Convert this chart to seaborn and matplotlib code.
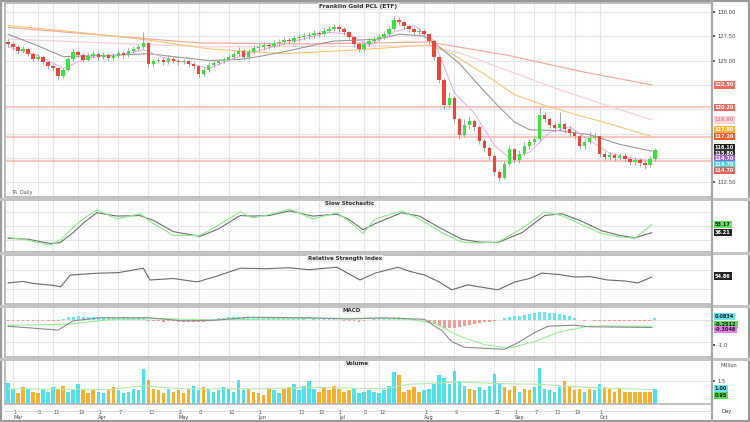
import numpy as np
import matplotlib
matplotlib.use("Agg")
import matplotlib.pyplot as plt
from matplotlib.lines import Line2D
from matplotlib.patches import Rectangle
import seaborn as sns

# ------------------------------------------------------------
# Data (daily bars, price in THB)
# ------------------------------------------------------------
closes = [126.7, 126.4, 126.0, 126.2, 125.7, 125.2, 125.4, 124.8, 124.4, 124.2,
          123.4, 124.0, 125.2, 125.9, 125.6, 125.1, 125.5, 125.7, 125.4, 125.6,
          125.3, 125.5, 125.8, 125.6, 126.0, 126.2, 126.4, 126.8, 124.6, 124.9,
          125.1, 124.8, 125.2, 125.0, 124.8, 124.9, 124.6, 124.4, 123.6, 124.0,
          124.5, 124.7, 124.9, 125.1, 125.4, 125.7, 126.0, 125.4, 125.9, 126.3,
          126.4, 126.6, 126.5, 126.8, 126.9, 127.1, 127.0, 127.3, 127.4, 127.5,
          127.6, 127.8, 127.7, 128.0, 128.2, 128.4, 128.2, 127.9, 127.4, 126.7,
          126.2, 126.7, 127.0, 127.2, 127.4, 127.7, 128.2, 129.2, 128.9, 128.5,
          128.2, 127.9, 128.0, 127.7, 127.0, 125.4, 123.0, 120.4, 121.2, 119.0,
          117.4, 118.4, 118.8, 118.2, 116.7, 116.0, 115.2, 113.6, 113.0, 114.4,
          115.9, 114.8, 115.4, 116.2, 116.6, 116.9, 119.4, 119.0, 118.4, 118.1,
          118.5, 118.0, 117.6, 117.3, 116.2, 116.6, 117.1, 117.3, 115.4, 115.1,
          115.3, 115.0, 115.2, 114.9, 114.6, 114.8, 114.5, 114.3, 114.9, 115.8]
opens = [126.9, 126.7, 126.4, 126.0, 126.2, 125.7, 125.2, 125.4, 124.8, 124.4,
         124.2, 123.4, 124.0, 125.2, 125.9, 125.6, 125.1, 125.5, 125.7, 125.4,
         125.6, 125.3, 125.5, 125.8, 125.6, 126.0, 126.2, 126.4, 126.8, 124.6,
         124.9, 125.1, 124.8, 125.2, 125.0, 124.8, 124.9, 124.6, 124.4, 123.6,
         124.0, 124.5, 124.7, 124.9, 125.1, 125.4, 125.7, 126.0, 125.4, 125.9,
         126.3, 126.4, 126.6, 126.5, 126.8, 126.9, 127.1, 127.0, 127.3, 127.4,
         127.5, 127.6, 127.8, 127.7, 128.0, 128.2, 128.4, 128.2, 127.9, 127.4,
         126.7, 126.2, 126.7, 127.0, 127.2, 127.4, 127.7, 128.2, 129.2, 128.9,
         128.5, 128.2, 127.9, 128.0, 127.7, 127.0, 125.4, 123.0, 120.4, 121.2,
         119.0, 117.4, 118.4, 118.8, 118.2, 116.7, 116.0, 115.2, 113.6, 113.0,
         114.4, 115.9, 114.8, 115.4, 116.2, 116.6, 116.9, 119.4, 119.0, 118.4,
         118.1, 118.5, 118.0, 117.6, 117.3, 116.2, 116.6, 117.1, 117.3, 115.4,
         115.1, 115.3, 115.0, 115.2, 114.9, 114.6, 114.8, 114.5, 114.3, 114.9]
highs = [127.2, 126.9, 126.6, 126.5, 126.4, 125.9, 125.7, 125.6, 125.0, 124.6,
         124.3, 124.2, 125.4, 126.2, 126.1, 125.8, 125.8, 126.0, 125.9, 125.9,
         125.8, 125.8, 126.1, 126.0, 126.3, 126.5, 126.7, 127.9, 126.9, 125.2,
         125.4, 125.3, 125.6, 125.4, 125.2, 125.2, 125.1, 124.8, 124.5, 124.3,
         124.8, 125.0, 125.2, 125.4, 125.7, 126.0, 126.4, 126.2, 126.2, 126.6,
         126.8, 126.9, 126.9, 127.1, 127.2, 127.4, 127.3, 127.6, 127.7, 127.8,
         127.9, 128.1, 128.0, 128.3, 128.5, 128.7, 128.6, 128.4, 128.0, 127.5,
         126.9, 127.0, 127.3, 127.5, 127.7, 128.0, 128.5, 129.6, 129.5, 129.1,
         128.7, 128.4, 128.3, 128.2, 127.8, 127.1, 125.5, 123.2, 121.8, 121.4,
         119.2, 119.0, 119.3, 119.0, 118.4, 117.0, 116.2, 115.4, 113.9, 114.7,
         116.3, 116.0, 115.8, 116.6, 117.0, 117.4, 120.2, 119.7, 119.2, 118.7,
         119.7, 118.7, 118.3, 117.9, 117.5, 117.0, 117.7, 117.6, 117.4, 115.7,
         115.6, 115.5, 115.5, 115.4, 115.1, 115.1, 115.0, 114.7, 115.2, 116.0]
lows = [126.4, 126.1, 125.7, 125.8, 125.5, 124.9, 125.0, 124.6, 124.1, 123.9,
        123.0, 123.2, 123.9, 125.0, 125.3, 124.8, 124.9, 125.3, 125.1, 125.2,
        125.0, 125.1, 125.3, 125.3, 125.4, 125.8, 126.0, 126.2, 124.3, 124.3,
        124.7, 124.5, 124.6, 124.7, 124.5, 124.6, 124.3, 124.1, 123.3, 123.4,
        123.8, 124.3, 124.5, 124.7, 124.9, 125.2, 125.5, 125.1, 125.2, 125.7,
        126.0, 126.1, 126.2, 126.3, 126.5, 126.7, 126.7, 126.8, 127.0, 127.1,
        127.2, 127.3, 127.4, 127.5, 127.8, 128.0, 127.9, 127.6, 127.1, 126.4,
        125.9, 126.0, 126.5, 126.8, 127.0, 127.2, 127.5, 128.0, 128.6, 128.2,
        127.9, 127.6, 127.6, 127.4, 126.7, 125.1, 122.7, 120.0, 120.1, 118.6,
        117.0, 117.2, 118.0, 117.8, 116.4, 115.6, 114.8, 113.2, 112.6, 112.8,
        114.2, 114.5, 114.5, 115.2, 115.9, 116.3, 116.7, 118.7, 118.1, 117.7,
        117.9, 117.6, 117.3, 117.0, 115.9, 115.9, 116.4, 116.8, 115.1, 114.8,
        114.8, 114.7, 114.8, 114.6, 114.3, 114.3, 114.2, 113.9, 114.1, 114.7]

# moving averages (bar index, price) read at their bends
ma200_x = [0, 38, 60, 84, 100, 115, 128.4]
ma200_y = [128.4, 126.8, 126.7, 126.9, 125.5, 123.8, 122.5]
ma100_x = [0, 40, 84, 90, 100, 110, 120, 128.4]
ma100_y = [127.2, 126.4, 126.5, 125.8, 123.9, 122.0, 120.3, 118.9]
ma50_x = [0, 14, 28, 40, 55, 70, 84, 88.5, 95, 101, 107, 113, 120, 128.4]
ma50_y = [128.6, 127.9, 127.1, 126.2, 125.7, 126.1, 126.6, 125.7, 123.6, 121.5,
          120.4, 119.5, 118.5, 117.2]
ma20_x = [0, 6, 11, 18, 24, 28, 33, 40, 46, 50, 56, 62, 65, 70, 74, 78, 83, 86,
          90, 94, 98, 101, 104, 110, 116, 122, 128.4]
ma20_y = [127.7, 126.5, 125.4, 125.5, 125.6, 125.7, 125.4, 125.0, 125.1, 125.4,
          126.0, 126.7, 127.0, 127.1, 127.2, 127.7, 127.5, 126.4, 124.7, 122.4,
          120.2, 118.7, 117.9, 117.8, 117.4, 116.4, 115.7]
ma10_x = [0, 6, 11, 16, 22, 27, 31, 36, 40, 46, 52, 58, 64, 68, 72, 77, 81, 85,
          89, 93, 97, 100, 104, 108, 112, 116, 120, 124, 128.4]
ma10_y = [126.4, 125.5, 124.2, 125.3, 125.5, 126.1, 125.3, 124.7, 124.2, 125.4,
          126.3, 127.1, 127.9, 127.7, 126.6, 127.9, 128.6, 127.0, 121.7, 119.6,
          116.3, 115.0, 115.6, 117.6, 118.2, 116.8, 115.5, 115.0, 114.7]
levels = [120.2, 117.2, 114.7]

# slow stochastic
stoch_x = [0, 4, 8.4, 10.4, 13, 15, 17.7, 21.7, 26.3, 29, 33, 38.3, 42, 46.3,
           48.8, 52, 56.2, 60.8, 65.6, 68, 70.8, 73.2, 78.5, 82, 86.5, 90.5, 94,
           97.7, 102.5, 107, 110.4, 114, 118.4, 122, 125, 128.4]
stoch_k = [26, 20, 9.5, 20, 47, 65, 84, 65, 76, 55, 30, 30, 52, 80, 67, 74, 86,
           65, 78, 60, 34, 65, 82, 65, 36, 16, 14, 16, 45, 80, 72, 55, 34, 27, 24, 53]
stoch_d = [24, 22, 13, 15, 36, 56, 78, 71, 72, 62, 38, 28, 44, 72, 71, 72, 82,
           71, 75, 64, 42, 55, 78, 71, 44, 22, 16, 15, 36, 72, 76, 62, 40, 30, 25, 36]

# RSI
rsi_x = [0, 3, 5, 9, 10.5, 12.4, 15, 18.3, 22, 27, 28.3, 33, 37.7, 42, 46.3,
         51.6, 56, 60, 65.6, 70.2, 73.2, 77.8, 80, 83.1, 86, 88.5, 91.7, 94, 97.7,
         101.1, 104, 106.5, 110, 113, 116, 119.6, 123, 125.6, 128.4]
rsi_y = [43, 46, 42, 38, 35, 59, 61, 63, 64, 73, 49, 52, 45, 58, 73, 72, 74, 70,
         75, 49, 63, 75, 67, 59, 45, 29, 39, 35, 29, 45, 52, 63, 60, 55, 56, 49,
         47, 43, 55]

# MACD
macd_x = [0, 10, 13, 18.3, 28, 35, 41, 48, 60, 68, 75, 83, 86.5, 88.5, 91, 96,
          99, 101.7, 105, 107.7, 113, 116, 128.4]
macd_y = [-0.25, -0.40, -0.04, 0.08, 0.08, -0.04, -0.02, 0.10, 0.08, 0.03, 0.08,
          0.02, -0.42, -0.85, -1.07, -1.12, -1.15, -0.89, -0.50, -0.25, -0.21,
          -0.27, -0.30]
signal_x = [0, 12, 20, 30, 40, 50, 62, 72, 80, 85, 90, 95, 100, 105, 110, 116, 128.4]
signal_y = [-0.21, -0.17, 0.0, 0.05, 0.0, 0.02, 0.06, 0.06, 0.02, -0.13, -0.63,
            -0.97, -1.10, -0.85, -0.47, -0.24, -0.25]
macd_hist = [-0.04, -0.05, -0.05, -0.06, -0.05, -0.05, -0.06, -0.05, -0.04, -0.04,
             -0.03, 0.04, 0.10, 0.12, 0.13, 0.12, 0.12, 0.11, 0.12, 0.11,
             0.10, 0.10, 0.09, 0.10, 0.11, 0.10, 0.11, 0.12, -0.03, -0.05,
             -0.06, -0.07, -0.06, -0.06, -0.07, -0.08, -0.07, -0.08, -0.09, -0.07,
             -0.04, 0.04, 0.07, 0.09, 0.10, 0.11, 0.12, 0.10, 0.11, 0.12,
             0.11, 0.10, 0.10, 0.09, 0.07, 0.03, 0.02, 0.03, 0.02, 0.02,
             0.01, 0.02, 0.03, 0.02, 0.03, 0.02, -0.02, -0.04, -0.05, -0.06,
             -0.07, -0.04, -0.01, 0.04, 0.07, 0.08, 0.09, 0.12, 0.10, 0.07,
             0.04, 0.02, 0.00, -0.02, -0.08, -0.16, -0.24, -0.31, -0.33, -0.31,
             -0.29, -0.26, -0.21, -0.17, -0.13, -0.10, -0.08, -0.06, -0.02, 0.06,
             0.11, 0.13, 0.14, 0.18, 0.21, 0.25, 0.31, 0.29, 0.27, 0.25,
             0.22, 0.19, 0.14, 0.07, -0.02, -0.03, -0.02, -0.03, -0.05, -0.06,
             -0.05, -0.06, -0.06, -0.05, -0.06, -0.06, -0.05, -0.05, -0.04, 0.08]

# volume (million units)
volume = [1.4, 1.0, 0.7, 1.1, 1.0, 0.8, 0.7, 1.0, 0.8, 1.1,
          1.0, 1.2, 0.8, 0.9, 1.3, 0.9, 0.7, 1.0, 0.8, 0.7,
          1.0, 1.1, 0.9, 0.7, 0.8, 1.0, 0.9, 2.3, 1.6, 1.0,
          0.9, 0.7, 1.0, 0.8, 0.9, 0.7, 1.0, 1.2, 0.9, 1.1,
          1.0, 0.8, 0.9, 1.1, 1.0, 0.8, 1.6, 0.9, 1.0, 0.8,
          0.7, 0.6, 1.0, 0.9, 0.7, 1.0, 1.1, 1.3, 0.9, 1.2,
          1.5, 1.0, 0.8, 1.1, 0.9, 1.2, 1.0, 0.8, 0.9, 1.0,
          0.7, 0.8, 0.9, 0.8, 0.7, 0.9, 1.2, 2.1, 1.9, 0.8,
          0.9, 1.1, 0.8, 0.9, 1.0, 1.3, 1.9, 1.7, 1.3, 2.2,
          1.5, 1.2, 1.0, 0.9, 1.1, 0.9, 1.2, 2.0, 1.4, 1.1,
          0.9, 1.2, 0.8, 1.0, 0.9, 1.1, 2.4, 1.0, 0.9, 0.8,
          1.1, 1.5, 1.2, 0.9, 1.0, 0.8, 1.0, 0.9, 1.3, 1.1,
          1.0, 0.8, 1.0, 0.8, 0.8, 0.8, 0.8, 0.8, 0.8, 1.0]
vol_kind = "".join(["ccoocooccc", "oocccooocc", "ooccccccoo", "oocoooocco",
                    "ccccccccoo", "oooccooccc", "ccoooooooc", "ccccccccoo",
                    "oooccccccc", "ccooccccco", "oocooccccc", "coooococco",
                    "oooooooooc"])
volma_x = [0, 20, 27, 35, 50, 60, 75, 80, 90, 97, 106, 115, 128.4]
volma_y = [1.0, 0.95, 1.2, 1.0, 1.0, 1.1, 1.0, 1.3, 1.45, 1.35, 1.3, 1.1, 0.95]

# x axis ticks
tick_idx = [1, 6, 9, 14, 18, 22, 28, 34, 38, 44, 50, 58, 62, 66, 71, 74, 83,
            89, 97, 101, 105, 109, 113, 118]
tick_day = ["1", "8", "12", "19", "1", "7", "15", "2", "8", "16", "1", "13", "18",
            "1", "8", "12", "1", "9", "21", "1", "7", "13", "19", "1"]
month_idx = [1, 18, 34, 50, 66, 83, 101, 118]
month_lbl = ["Mar", "Apr", "May", "Jun", "Jul", "Aug", "Sep", "Oct"]

# ------------------------------------------------------------
sns.set_theme(style="white")
plt.rcParams["font.family"] = ["DejaVu Sans"]

W, H = 750, 422
fig = plt.figure(figsize=(7.5, 4.22), dpi=100, facecolor="white")


def px_box(x0, y0, x1, y1):
    return [x0 / W, 1 - y1 / H, (x1 - x0) / W, (y1 - y0) / H]


ax_p = fig.add_axes(px_box(5, 3, 712, 197))
ax_s = fig.add_axes(px_box(5, 200, 712, 252), sharex=ax_p)
ax_r = fig.add_axes(px_box(5, 255, 712, 304), sharex=ax_p)
ax_m = fig.add_axes(px_box(5, 307, 712, 357), sharex=ax_p)
ax_v = fig.add_axes(px_box(5, 360, 712, 404), sharex=ax_p)
panels = [ax_p, ax_s, ax_r, ax_m, ax_v]

idx = np.arange(len(closes))
grid_col = "#e6e6e6"
for ax in panels:
    ax.set_facecolor("white")
    for s in ax.spines.values():
        s.set_color("#b4b4b4")
        s.set_linewidth(1.2)
    for t in tick_idx:
        ax.axvline(t, color=grid_col, lw=0.8, zorder=0)
    ax.yaxis.tick_right()
    ax.tick_params(axis="y", labelsize=3.8, length=2, pad=2, colors="#444")
    ax.tick_params(axis="x", labelbottom=False, length=0)
ax_p.set_xlim(-0.6, 140.4)


def tag(ax, y, text, fc, tc="white"):
    ax.text(1.004, y, text, transform=ax.get_yaxis_transform(), fontsize=3.6,
            color=tc, va="center", ha="left", fontweight="bold",
            bbox=dict(boxstyle="square,pad=0.25", fc=fc, ec="none"))


def panel_title(ax, text, x_px):
    ax.text((x_px - 5) / 707, 0.985, text, transform=ax.transAxes, fontsize=4,
            ha="center", va="top", fontweight="bold", color="#333",
            bbox=dict(boxstyle="square,pad=0.2", fc="#eeeeee", ec="none"))


# ---- price panel
ax_p.set_ylim(111.0, 130.9)
for g in [130, 127.5, 125, 122.5, 120, 117.5, 115, 112.5]:
    ax_p.axhline(g, color=grid_col, lw=0.8, zorder=0)
for lv in levels:
    ax_p.axhline(lv, color="#f4b0a8", lw=1.6, alpha=0.7, zorder=1)

sns.lineplot(x=ma200_x, y=ma200_y, ax=ax_p, color="#f2aa9c", lw=0.9, zorder=2)
sns.lineplot(x=ma100_x, y=ma100_y, ax=ax_p, color="#f7d0d9", lw=0.9, zorder=2)
sns.lineplot(x=ma50_x, y=ma50_y, ax=ax_p, color="#f8c479", lw=0.8, zorder=2)
sns.lineplot(x=ma20_x, y=ma20_y, ax=ax_p, color="#999999", lw=0.8, zorder=2)
sns.lineplot(x=ma10_x, y=ma10_y, ax=ax_p, color="#eaaae8", lw=0.7, zorder=2)

o = np.array(opens)
c = np.array(closes)
body_col = ["#3ee03e" if cc >= oo else "#e8453c" for oo, cc in zip(o, c)]
ax_p.vlines(idx, lows, highs, color="#9a9a9a", lw=0.6, zorder=3)
ax_p.bar(idx, np.maximum(np.abs(c - o), 0.07), bottom=np.minimum(o, c),
         width=0.7, color=body_col, linewidth=0, zorder=4)

ax_p.set_yticks([130.0, 127.5, 125.0, 112.5])
ax_p.set_yticklabels(["130.00", "127.50", "125.00", "112.50"])
ax_p.set_ylabel("")
tag(ax_p, 122.5, "122.50", "#e86e64")
tag(ax_p, 120.2, "120.20", "#ea6a62")
tag(ax_p, 118.9, "118.90", "#f8d6dd", "#e58a9a")
tag(ax_p, 117.9, "117.80", "#f6b23a")
tag(ax_p, 117.2, "117.20", "#ef5a36")
tag(ax_p, 116.1, "116.10", "#1e1e1e")
tag(ax_p, 115.5, "115.80", "#333333")
tag(ax_p, 114.9, "114.70", "#9d62d8")
tag(ax_p, 114.3, "114.70", "#3fd8ea")
tag(ax_p, 113.7, "114.70", "#e8605a")
ax_p.text(0.5, 0.995, "Franklin Gold PCL (ETF)", transform=ax_p.transAxes,
          fontsize=4.2, ha="center", va="top", fontweight="bold", color="#333",
          bbox=dict(boxstyle="square,pad=0.2", fc="#eeeeee", ec="none"))
ax_p.text(0.008, 0.012, "TA  Daily", transform=ax_p.transAxes, fontsize=3.5,
          ha="left", va="bottom", color="#555")

# ---- slow stochastic
ax_s.set_ylim(-5, 105)
for g in [20, 50, 80]:
    ax_s.axhline(g, color=grid_col, lw=0.8, zorder=0)
sns.lineplot(x=stoch_x, y=stoch_d, ax=ax_s, color="#6e6e6e", lw=0.8)
sns.lineplot(x=stoch_x, y=stoch_k, ax=ax_s, color="#8fe88f", lw=0.8)
ax_s.set_yticks([])
ax_s.set_ylabel("")
panel_title(ax_s, "Slow Stochastic", 350)
tag(ax_s, 53, "53.17", "#63e063", "#1a1a1a")
tag(ax_s, 36, "36.21", "#222222")

# ---- RSI
ax_r.set_ylim(0, 100)
for g in [30, 70]:
    ax_r.axhline(g, color=grid_col, lw=0.8, zorder=0)
sns.lineplot(x=rsi_x, y=rsi_y, ax=ax_r, color="#6a6a6a", lw=0.8)
ax_r.set_yticks([])
ax_r.set_ylabel("")
panel_title(ax_r, "Relative Strength Index", 345)
tag(ax_r, 57, "54.86", "#222222")

# ---- MACD
ax_m.set_ylim(-1.45, 0.5)
ax_m.axhline(0, color=grid_col, lw=0.8, zorder=0)
ax_m.axhline(-0.85, color=grid_col, lw=0.8, zorder=0)
hist = np.array(macd_hist)
ax_m.bar(idx, hist, width=0.55, color=np.where(hist >= 0, "#6fe6ee", "#f29a9a"),
         linewidth=0, zorder=2)
sns.lineplot(x=signal_x, y=signal_y, ax=ax_m, color="#9aeb9a", lw=0.8, zorder=3)
sns.lineplot(x=macd_x, y=macd_y, ax=ax_m, color="#8a8a8a", lw=0.8, zorder=3)
ax_m.set_yticks([-1.0])
ax_m.set_yticklabels(["-1.0"])
ax_m.set_ylabel("")
panel_title(ax_m, "MACD", 352)
tag(ax_m, 0.12, "0.0834", "#6fe7f0", "#1a1a1a")
tag(ax_m, -0.19, "-0.2512", "#5ad85a", "#1a1a1a")
tag(ax_m, -0.38, "-0.3046", "#e27fe6", "#1a1a1a")

# ---- volume
ax_v.set_ylim(0, 2.9)
ax_v.axhline(1.5, color=grid_col, lw=0.8, zorder=0)
vcol = ["#4fe0ea" if k == "c" else "#f6b030" for k in vol_kind]
ax_v.bar(idx, volume, width=0.7, color=vcol, linewidth=0, zorder=2)
sns.lineplot(x=volma_x, y=volma_y, ax=ax_v, color="#b6eab0", lw=0.8, zorder=3)
ax_v.set_yticks([1.5])
ax_v.set_yticklabels(["1.5"])
ax_v.set_ylabel("")
panel_title(ax_v, "Volume", 357)
ax_v.text(1.012, 0.93, "Million", transform=ax_v.transAxes, fontsize=3.6,
          ha="left", va="top", color="#444")
tag(ax_v, 1.0, "1.00", "#6fe7f0", "#1a1a1a")
tag(ax_v, 0.55, "0.95", "#5ad85a", "#1a1a1a")

# x tick labels (day row + month row)
labels = []
for t, d in zip(tick_idx, tick_day):
    m = month_lbl[month_idx.index(t)] if t in month_idx else ""
    labels.append(d + "\n" + m)
ax_v.set_xticks(tick_idx)
ax_v.set_xticklabels(labels)
ax_v.tick_params(axis="x", labelbottom=True, labelsize=3.6, length=3, width=0.5,
                 color="#777", pad=1, colors="#444")
for lab in ax_v.get_xticklabels():
    lab.set_horizontalalignment("left")
    lab.set_linespacing(1.1)
ax_v.set_xlabel("")
fig.text(727 / W, 1 - 412 / H, "Day", fontsize=3.8, ha="center", va="center",
         color="#444")

# frame lines like the original terminal layout
for yp in [198.5, 253.5, 305.5, 358.5]:
    fig.add_artist(Line2D([0, 1], [1 - yp / H] * 2, color="#c4c4c4", lw=2.2))
fig.add_artist(Line2D([712 / W] * 2, [0, 1], color="#a8a8a8", lw=1.6))
fig.add_artist(Line2D([5 / W, 712 / W], [1 - 410.5 / H] * 2, color="#d4d4d4", lw=0.6))
fig.add_artist(Rectangle((0, 0), 1, 1, transform=fig.transFigure, fill=False,
                         ec="#9a9a9a", lw=3))

fig.savefig("out.png", dpi=100, facecolor="white")
